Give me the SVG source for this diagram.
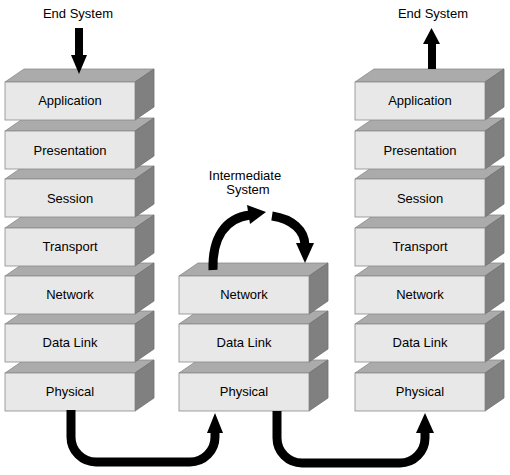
<svg xmlns="http://www.w3.org/2000/svg" xmlns:xlink="http://www.w3.org/1999/xlink" width="510" height="475" viewBox="0 0 510 475">
<style>
.front{fill:#e8e8e8;stroke:#8a8a8a;stroke-width:0.8}
.top{fill:#ababab;stroke:#8a8a8a;stroke-width:0.8}
.side{fill:#808080;stroke:#6e6e6e;stroke-width:0.8}
.lbl{font-family:"Liberation Sans",Arial,sans-serif;font-size:13px;fill:#000;text-anchor:middle}
.conn{fill:none;stroke:#000;stroke-width:9}
.head{fill:#000}
</style>
<defs>
<g id="blk">
<polygon class="top" points="0,0 19,-13 149,-13 130,0"/>
<polygon class="side" points="130,0 149,-13 149,25 130,38"/>
<rect class="front" x="0" y="0" width="130" height="38"/>
</g>
</defs>
<rect width="510" height="475" fill="#fff"/>
<g id="left-stack">
<g id="left-physical"><use xlink:href="#blk" href="#blk" x="5" y="373"/><text class="lbl" x="70" y="396">Physical</text></g>
<g id="left-datalink"><use xlink:href="#blk" href="#blk" x="5" y="324"/><text class="lbl" x="70" y="347">Data Link</text></g>
<g id="left-network"><use xlink:href="#blk" href="#blk" x="5" y="276"/><text class="lbl" x="70" y="299">Network</text></g>
<g id="left-transport"><use xlink:href="#blk" href="#blk" x="5" y="228"/><text class="lbl" x="70" y="251">Transport</text></g>
<g id="left-session"><use xlink:href="#blk" href="#blk" x="5" y="179"/><text class="lbl" x="70" y="203">Session</text></g>
<g id="left-presentation"><use xlink:href="#blk" href="#blk" x="5" y="131"/><text class="lbl" x="70" y="155">Presentation</text></g>
<g id="left-application"><use xlink:href="#blk" href="#blk" x="5" y="82"/><text class="lbl" x="70" y="105">Application</text></g>
</g>
<g id="mid-stack">
<g id="mid-physical"><use xlink:href="#blk" href="#blk" x="179" y="373"/><text class="lbl" x="244" y="396">Physical</text></g>
<g id="mid-datalink"><use xlink:href="#blk" href="#blk" x="179" y="324"/><text class="lbl" x="244" y="347">Data Link</text></g>
<g id="mid-network"><use xlink:href="#blk" href="#blk" x="179" y="276"/><text class="lbl" x="244" y="299">Network</text></g>
</g>
<g id="right-stack">
<g id="right-physical"><use xlink:href="#blk" href="#blk" x="355" y="373"/><text class="lbl" x="420" y="396">Physical</text></g>
<g id="right-datalink"><use xlink:href="#blk" href="#blk" x="355" y="324"/><text class="lbl" x="420" y="347">Data Link</text></g>
<g id="right-network"><use xlink:href="#blk" href="#blk" x="355" y="276"/><text class="lbl" x="420" y="299">Network</text></g>
<g id="right-transport"><use xlink:href="#blk" href="#blk" x="355" y="228"/><text class="lbl" x="420" y="251">Transport</text></g>
<g id="right-session"><use xlink:href="#blk" href="#blk" x="355" y="179"/><text class="lbl" x="420" y="203">Session</text></g>
<g id="right-presentation"><use xlink:href="#blk" href="#blk" x="355" y="131"/><text class="lbl" x="420" y="155">Presentation</text></g>
<g id="right-application"><use xlink:href="#blk" href="#blk" x="355" y="82"/><text class="lbl" x="420" y="105">Application</text></g>
</g>
<g id="labels">
<text id="end-system-left" class="lbl" x="78" y="18">End System</text>
<text id="end-system-right" class="lbl" x="433" y="18">End System</text>
<text id="intermediate-system" class="lbl"><tspan x="245" y="180">Intermediate</tspan><tspan x="248" y="194">System</tspan></text>
</g>
<g id="connectors">
<rect x="75" y="28" width="8" height="28"/>
<polygon class="head" points="71,55 87,55 79,74"/>
<rect x="428" y="42" width="8" height="27"/>
<polygon class="head" points="423,44 440,44 431.5,28"/>
<path class="conn" d="M71,410 V437 A25,25 0 0 0 96,462 H190 A25,25 0 0 0 215,437 V430"/>
<polygon class="head" points="215,413 207,433 223,433"/>
<path class="conn" d="M277,411 V438 A25,25 0 0 0 302,463 H400 A25,25 0 0 0 425,438 V430"/>
<polygon class="head" points="425,413 416,433 434,433"/>
<path class="conn" d="M213,270 C212,238 225,218 250,215"/>
<polygon class="head" points="266,212 247,205 250,224"/>
<path class="conn" d="M272,216 C292,219 305,230 305,246"/>
<polygon class="head" points="305,263 296,243 314,243"/>
</g>
</svg>
